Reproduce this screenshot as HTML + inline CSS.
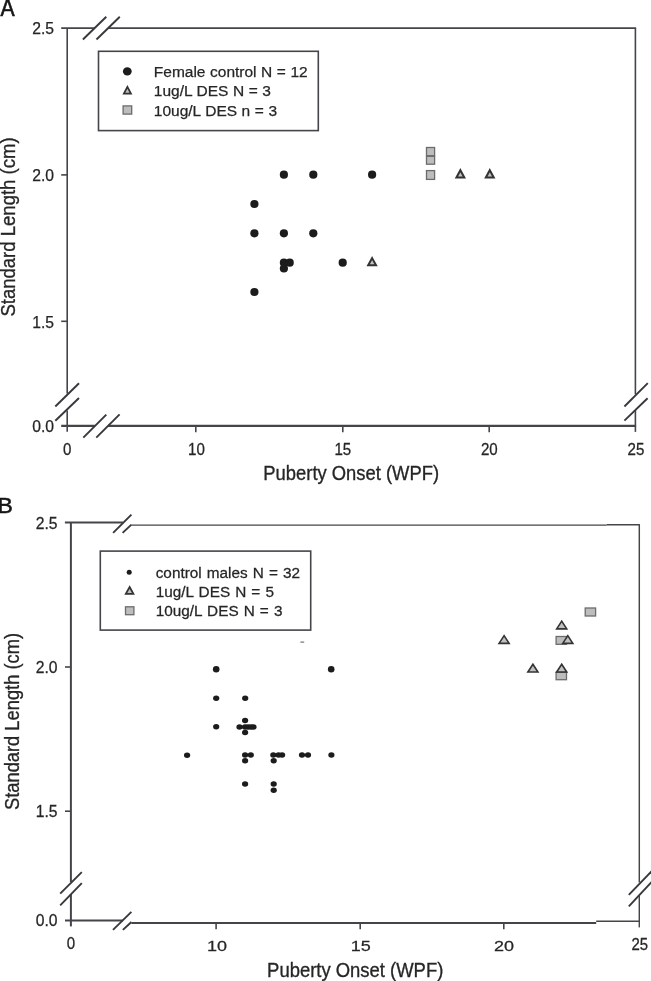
<!DOCTYPE html>
<html><head><meta charset="utf-8"><title>Puberty onset vs standard length</title>
<style>
html,body{margin:0;padding:0;background:#fff;}
body{width:651px;height:981px;overflow:hidden;}
svg{display:block;filter:blur(0.4px);}
text{font-family:"Liberation Sans",sans-serif;fill:#262626;stroke:#262626;stroke-width:0.25px;}
.tk{font-size:15.7px;}
.tkx{font-size:15.1px;}
.tkb{font-size:16.1px;}
.tkbx{font-size:15.4px;}
.lgb{font-size:14.9px;word-spacing:0.8px;}
.axb{font-size:18.45px;}
.ayb{font-size:18.1px;}
.pn,.pna{stroke-width:0.55px;fill:#151515;stroke:#151515;}
.pna{font-size:21.2px;}
.ax,.axb,.ayb{stroke-width:0.3px;}
.ax{font-size:18.4px;}
.lg{font-size:15.5px;word-spacing:0.25px;}
.pn{font-size:23px;}
.ln{stroke:#44454a;stroke-width:1.6;fill:none;}
.dot{fill:#1c1c1c;}
.tri{fill:#c0c0c0;stroke:#333333;stroke-width:2;stroke-linejoin:miter;}
.sq{fill:#bdbdbd;stroke:#6c6c6c;stroke-width:1.3;}
</style></head><body>
<svg width="651" height="981" viewBox="0 0 651 981">
<rect x="0" y="0" width="651" height="981" fill="#ffffff"/>

<g id="panelA">
<line class="ln" x1="61.2" y1="28.1" x2="94.4" y2="28.1" style="stroke-width:1.7"/>
<line class="ln" x1="108.5" y1="28.1" x2="636.1" y2="28.1" style="stroke-width:1.7"/>
<line class="ln" x1="635.4" y1="28.1" x2="635.4" y2="394.3"/>
<line class="ln" x1="635.4" y1="410.2" x2="635.4" y2="431.9"/>
<line class="ln" x1="67.2" y1="28.1" x2="67.2" y2="393.5"/>
<line class="ln" x1="67.2" y1="410.5" x2="67.2" y2="431.8"/>
<line class="ln" x1="61.2" y1="425.9" x2="94.8" y2="425.9" style="stroke-width:2.1"/>
<line class="ln" x1="108.0" y1="425.9" x2="636.1" y2="425.9" style="stroke-width:2.1"/>
<line class="ln" style="stroke-width:1.9;stroke:#37383c" x1="82.9" y1="39.5" x2="106.3" y2="16.8"/>
<line class="ln" style="stroke-width:1.9;stroke:#37383c" x1="96.5" y1="39.5" x2="119.8" y2="16.8"/>
<line class="ln" style="stroke-width:1.9;stroke:#37383c" x1="83.3" y1="437.7" x2="106.3" y2="414.7"/>
<line class="ln" style="stroke-width:1.9;stroke:#37383c" x1="96.3" y1="437.7" x2="119.6" y2="414.4"/>
<line class="ln" style="stroke-width:1.9;stroke:#37383c" x1="55.3" y1="406.5" x2="79.0" y2="383.3"/>
<line class="ln" style="stroke-width:1.9;stroke:#37383c" x1="55.3" y1="420.8" x2="79.0" y2="398.0"/>
<line class="ln" style="stroke-width:1.9;stroke:#37383c" x1="624.4" y1="406.5" x2="647.8" y2="383.2"/>
<line class="ln" style="stroke-width:1.9;stroke:#37383c" x1="624.4" y1="420.6" x2="647.6" y2="398.3"/>
<line class="ln" x1="61.2" y1="174.9" x2="67.2" y2="174.9"/>
<line class="ln" x1="61.2" y1="321.3" x2="67.2" y2="321.3"/>
<line class="ln" x1="195.8" y1="425.9" x2="195.8" y2="432.2"/>
<line class="ln" x1="342.8" y1="425.9" x2="342.8" y2="432.2"/>
<line class="ln" x1="489.2" y1="425.9" x2="489.2" y2="432.2"/>
<text class="tk" x="54.1" y="34.3" text-anchor="end">2.5</text>
<text class="tk" x="54.1" y="180.9" text-anchor="end">2.0</text>
<text class="tk" x="54.1" y="327.5" text-anchor="end">1.5</text>
<text class="tk" x="54.0" y="431.8" text-anchor="end">0.0</text>
<text class="tkx" text-anchor="middle" transform="translate(67.1,455.0) scale(1.000,1.100)">0</text>
<text class="tkx" text-anchor="middle" transform="translate(196.5,455.0) scale(1.000,1.100)">10</text>
<text class="tkx" text-anchor="middle" transform="translate(342.8,455.0) scale(1.000,1.100)">15</text>
<text class="tkx" text-anchor="middle" transform="translate(489.3,455.0) scale(1.000,1.100)">20</text>
<text class="tkx" text-anchor="middle" transform="translate(636.0,455.0) scale(1.000,1.100)">25</text>
<text class="ax" text-anchor="middle" transform="translate(351.2,479.6) scale(1.000,1.070)">Puberty Onset (WPF)</text>
<text class="ax" text-anchor="middle" transform="translate(15.2,227.0) rotate(-90) scale(1.008,1.07)">Standard Length (cm)</text>
<text class="pna" text-anchor="start" transform="translate(0.4,15.7) scale(1.000,1.110)">A</text>
<rect class="ln" style="stroke-width:1.6" x="98.5" y="51.3" width="219.8" height="79.3"/>
<ellipse class="dot" cx="127.3" cy="71.4" rx="4.40" ry="4.15"/>
<polygon class="tri" style="stroke-width:1.8" points="127.40,86.86 130.92,93.70 123.88,93.70"/>
<rect class="sq" x="123.1" y="105.9" width="8.6" height="8.2"/>
<text class="lg" x="153.8" y="77.2" text-anchor="start">Female control N = 12</text>
<text class="lg" x="153.8" y="96.4" text-anchor="start">1ug/L DES N = 3</text>
<text class="lg" x="153.8" y="115.6" text-anchor="start">10ug/L DES n = 3</text>
<ellipse class="dot" cx="254.4" cy="204.0" rx="4.10" ry="4.10"/>
<ellipse class="dot" cx="254.4" cy="233.3" rx="4.10" ry="4.10"/>
<ellipse class="dot" cx="254.4" cy="292.0" rx="4.10" ry="4.10"/>
<ellipse class="dot" cx="283.9" cy="174.7" rx="4.10" ry="4.10"/>
<ellipse class="dot" cx="283.9" cy="233.3" rx="4.10" ry="4.10"/>
<ellipse class="dot" cx="283.9" cy="262.7" rx="4.10" ry="4.10"/>
<ellipse class="dot" cx="283.9" cy="268.5" rx="4.10" ry="4.10"/>
<ellipse class="dot" cx="289.7" cy="262.7" rx="4.10" ry="4.10"/>
<ellipse class="dot" cx="313.3" cy="174.7" rx="4.10" ry="4.10"/>
<ellipse class="dot" cx="313.3" cy="233.3" rx="4.10" ry="4.10"/>
<ellipse class="dot" cx="342.7" cy="262.7" rx="4.10" ry="4.10"/>
<ellipse class="dot" cx="372.1" cy="174.7" rx="4.10" ry="4.10"/>
<rect class="sq" x="426.5" y="147.5" width="8.1" height="8.2"/>
<rect class="sq" x="426.5" y="156.3" width="8.1" height="7.9"/>
<rect class="sq" x="426.5" y="170.6" width="8.1" height="8.8"/>
<polygon class="tri" style="stroke-width:2.0" points="372.12,258.14 376.08,265.36 368.16,265.36"/>
<polygon class="tri" style="stroke-width:2.0" points="460.38,170.18 464.34,177.40 456.42,177.40"/>
<polygon class="tri" style="stroke-width:2.0" points="489.80,170.18 493.76,177.40 485.84,177.40"/>
</g>
<g id="panelB">
<line class="ln" x1="64.9" y1="522.6" x2="122.9" y2="522.6" style="stroke-width:2.0"/>
<line class="ln" x1="131.4" y1="525.2" x2="606.6" y2="525.2" style="stroke-width:1.25"/>
<line class="ln" x1="606.6" y1="524.7" x2="639.9" y2="524.7" style="stroke-width:1.35"/>
<line class="ln" x1="639.3" y1="524.7" x2="639.3" y2="882.6" style="stroke-width:1.45"/>
<line class="ln" x1="639.3" y1="895.5" x2="639.3" y2="927.4" style="stroke-width:1.45"/>
<line class="ln" x1="70.9" y1="522.4" x2="70.9" y2="882.0" style="stroke-width:2.0"/>
<line class="ln" x1="70.9" y1="894.0" x2="70.9" y2="926.4" style="stroke-width:2.0"/>
<line class="ln" x1="65.0" y1="920.5" x2="122.9" y2="920.5" style="stroke-width:2.2"/>
<line class="ln" x1="131.4" y1="923.0" x2="596.2" y2="923.0" style="stroke-width:1.9"/>
<line class="ln" x1="596.2" y1="921.2" x2="639.3" y2="921.2"/>
<line class="ln" style="stroke-width:1.9;stroke:#37383c" x1="113.1" y1="532.9" x2="131.4" y2="514.7"/>
<line class="ln" style="stroke-width:1.9;stroke:#37383c" x1="122.6" y1="532.9" x2="131.4" y2="524.6"/>
<line class="ln" style="stroke-width:1.9;stroke:#37383c" x1="113.0" y1="929.9" x2="131.4" y2="911.9"/>
<line class="ln" style="stroke-width:1.9;stroke:#37383c" x1="122.9" y1="929.9" x2="131.4" y2="922.0"/>
<line class="ln" style="stroke-width:1.9;stroke:#37383c" x1="60.2" y1="893.7" x2="81.8" y2="872.1"/>
<line class="ln" style="stroke-width:1.9;stroke:#37383c" x1="60.2" y1="905.3" x2="81.8" y2="883.2"/>
<line class="ln" style="stroke-width:1.9;stroke:#37383c" x1="628.8" y1="894.9" x2="652.0" y2="870.9"/>
<line class="ln" style="stroke-width:1.9;stroke:#37383c" x1="628.8" y1="906.3" x2="652.0" y2="881.6"/>
<line class="ln" x1="65.0" y1="667.0" x2="70.9" y2="667.0"/>
<line class="ln" x1="65.0" y1="811.2" x2="70.9" y2="811.2"/>
<line class="ln" x1="216.1" y1="923.0" x2="216.1" y2="929.2"/>
<line class="ln" x1="360.2" y1="923.0" x2="360.2" y2="929.2"/>
<line class="ln" x1="503.8" y1="923.0" x2="503.8" y2="929.2"/>
<text class="tkb" text-anchor="end" transform="translate(57.6,528.6) scale(0.975,1.000)">2.5</text>
<text class="tkb" text-anchor="end" transform="translate(57.6,673.0) scale(0.975,1.000)">2.0</text>
<text class="tkb" text-anchor="end" transform="translate(57.6,817.0) scale(0.975,1.000)">1.5</text>
<text class="tkb" text-anchor="end" transform="translate(57.6,926.2) scale(0.975,1.000)">0.0</text>
<text class="tkbx" text-anchor="middle" transform="translate(70.9,948.7) scale(0.980,1.090)">0</text>
<text class="tkbx" text-anchor="middle" transform="translate(216.9,951.3) scale(1.170,1.000)">10</text>
<text class="tkbx" text-anchor="middle" transform="translate(360.8,951.3) scale(1.170,1.000)">15</text>
<text class="tkbx" text-anchor="middle" transform="translate(504.0,951.3) scale(1.170,1.000)">20</text>
<text class="tkbx" text-anchor="middle" transform="translate(639.7,949.7) scale(0.970,1.090)">25</text>
<text class="axb" text-anchor="middle" transform="translate(355.2,977.1) scale(1.000,1.060)">Puberty Onset (WPF)</text>
<text class="ayb" text-anchor="middle" transform="translate(18.7,721.5) rotate(-90) scale(1.012,1.09)">Standard Length (cm)</text>
<text class="pn" text-anchor="start" transform="translate(-2.6,512.5) scale(1.000,0.965)">B</text>
<rect class="ln" style="stroke-width:1.6" x="100.3" y="551.1" width="210.4" height="79"/>
<ellipse class="dot" cx="129.2" cy="572.3" rx="2.50" ry="2.50"/>
<polygon class="tri" style="stroke-width:1.8" points="129.60,587.06 133.38,593.90 125.82,593.90"/>
<rect class="sq" x="125.5" y="606.8" width="8.4" height="7.9"/>
<text class="lgb" text-anchor="start" transform="translate(155.7,577.7) scale(1.030,1.000)">control males N = 32</text>
<text class="lgb" text-anchor="start" transform="translate(155.7,596.7) scale(1.030,1.000)">1ug/L DES N = 5</text>
<text class="lgb" text-anchor="start" transform="translate(155.7,615.8) scale(1.030,1.000)">10ug/L DES N = 3</text>
<ellipse class="dot" cx="187.1" cy="755.2" rx="3.10" ry="2.75"/>
<ellipse class="dot" cx="216.2" cy="669.2" rx="3.30" ry="3.20"/>
<ellipse class="dot" cx="216.2" cy="698.2" rx="3.10" ry="2.75"/>
<ellipse class="dot" cx="216.2" cy="726.7" rx="3.10" ry="2.75"/>
<ellipse class="dot" cx="245.2" cy="698.2" rx="3.10" ry="2.75"/>
<ellipse class="dot" cx="245.1" cy="720.6" rx="3.10" ry="2.75"/>
<ellipse class="dot" cx="239.5" cy="726.9" rx="3.10" ry="2.75"/>
<ellipse class="dot" cx="245.0" cy="726.9" rx="3.10" ry="2.75"/>
<ellipse class="dot" cx="248.0" cy="726.9" rx="3.10" ry="2.75"/>
<ellipse class="dot" cx="251.0" cy="726.9" rx="3.10" ry="2.75"/>
<ellipse class="dot" cx="253.5" cy="726.9" rx="3.10" ry="2.75"/>
<ellipse class="dot" cx="245.1" cy="732.6" rx="3.10" ry="2.75"/>
<ellipse class="dot" cx="245.1" cy="755.1" rx="3.10" ry="2.75"/>
<ellipse class="dot" cx="250.8" cy="755.1" rx="3.10" ry="2.75"/>
<ellipse class="dot" cx="245.1" cy="760.8" rx="3.10" ry="2.75"/>
<ellipse class="dot" cx="245.1" cy="783.9" rx="3.10" ry="2.75"/>
<ellipse class="dot" cx="273.3" cy="755.1" rx="3.10" ry="2.75"/>
<ellipse class="dot" cx="278.5" cy="755.1" rx="3.10" ry="2.75"/>
<ellipse class="dot" cx="282.1" cy="755.1" rx="3.10" ry="2.75"/>
<ellipse class="dot" cx="273.7" cy="760.8" rx="3.10" ry="2.75"/>
<ellipse class="dot" cx="273.7" cy="783.9" rx="3.10" ry="2.75"/>
<ellipse class="dot" cx="273.7" cy="790.3" rx="3.10" ry="2.75"/>
<ellipse class="dot" cx="302.0" cy="755.1" rx="3.10" ry="2.75"/>
<ellipse class="dot" cx="308.0" cy="755.1" rx="3.10" ry="2.75"/>
<ellipse class="dot" cx="331.4" cy="755.1" rx="3.10" ry="2.75"/>
<ellipse class="dot" cx="331.2" cy="669.2" rx="3.30" ry="3.20"/>
<rect x="300.4" y="641.6" width="3.8" height="1" fill="#5a5a5a"/>
<rect class="sq" x="585.2" y="608.0" width="10.4" height="8.0"/>
<rect class="sq" x="556.1" y="636.5" width="10.4" height="7.8"/>
<rect class="sq" x="556.1" y="672.3" width="10.4" height="7.4"/>
<polygon class="tri" style="stroke-width:1.6" points="504.10,635.67 509.13,643.40 499.07,643.40"/>
<polygon class="tri" style="stroke-width:1.6" points="561.70,621.17 566.73,628.90 556.67,628.90"/>
<polygon class="tri" style="stroke-width:1.6" points="567.80,635.67 572.83,643.40 562.77,643.40"/>
<polygon class="tri" style="stroke-width:1.6" points="532.90,664.27 537.93,672.00 527.87,672.00"/>
<polygon class="tri" style="stroke-width:1.6" points="561.70,664.27 566.73,672.00 556.67,672.00"/>
</g>
</svg></body></html>
